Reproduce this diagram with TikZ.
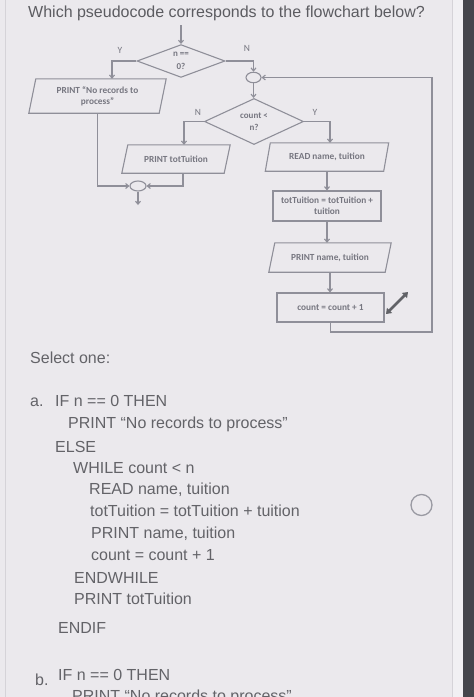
\documentclass[tikz,border=0pt]{standalone}
\usepackage{fontspec}
\setmainfont{Liberation Sans}
\newfontfamily\flowfont{Carlito}
\usetikzlibrary{shapes.geometric,arrows.meta}
\definecolor{bg}{HTML}{EBE9ED}
\definecolor{txt}{HTML}{636368}
\definecolor{ttl}{HTML}{5C5C61}
\definecolor{fl}{HTML}{8F8F99}
\definecolor{fltxt}{HTML}{767680}
\definecolor{strip}{HTML}{45464C}
\definecolor{edge}{HTML}{D5D3D8}
\newcommand\ioshape[2]{\draw[fline] ([xshift=#2]#1.north west) -- ([xshift=#2]#1.north east) -- ([xshift=-#2]#1.south east) -- ([xshift=-#2]#1.south west) -- cycle;}
\begin{document}
\begin{tikzpicture}[x=1pt,y=-1pt,
  fline/.style={draw=fl, line width=1.1pt},
  conn/.style={draw=fl, line width=1.1pt, -{Straight Barb[length=3pt,width=5pt]}},
  ftext/.style={font=\flowfont\bfseries\fontsize{9.3}{10.8}\selectfont, text=fltxt, align=center, inner sep=0pt},
  iobox/.style={ftext, rectangle},
  procbox/.style={ftext, rectangle, draw=fl, line width=1.1pt},
  decision/.style={ftext, diamond, draw=fl, line width=1.1pt, font=\flowfont\bfseries\fontsize{9}{12.5}\selectfont},
  junction/.style={ellipse, draw=fl, line width=1.1pt, inner sep=0pt},
  lbl/.style={font=\flowfont\fontsize{9.5}{10}\selectfont, text=fltxt, inner sep=0pt},
  code/.style={font=\fontsize{16}{18}\selectfont, text=txt, anchor=base west, inner sep=0pt},
]
\path[use as bounding box, clip] (0,0) rectangle (474,697);
\fill[bg] (0,0) rectangle (474,697);
\fill[strip] (463,0) rectangle (474,697);
\fill[white, opacity=0.35] (452,0) rectangle (463,697);
\draw[edge, line width=0.8pt] (5,0) -- (5,697);
\draw[edge, line width=0.8pt] (452,0) -- (452,697);

% title
\node[code, text=ttl] (title) at (28,17.5) {Which pseudocode corresponds to the flowchart below?};

% flowchart nodes
\coordinate (start) at (181,25);
\node[decision, minimum width=88pt, minimum height=32pt] (d1) at (181,61) {n ==\\0?};
\node[iobox, minimum width=130pt, minimum height=34pt] (p1) at (97.5,96) {PRINT “No records to\\process”};
\ioshape{p1}{3.5pt}
\node[junction, minimum width=15pt, minimum height=10.5pt] (c1) at (253.5,77.5) {};
\node[decision, minimum width=99pt, minimum height=37pt] (d2) at (254,121.5) {count <\\n?};
\node[iobox, minimum width=102pt, minimum height=28pt] (p2) at (176,159) {PRINT totTuition};
\ioshape{p2}{3pt}
\node[iobox, minimum width=118pt, minimum height=28pt] (p3) at (327,157) {READ name, tuition};
\ioshape{p3}{2.5pt}
\node[procbox, minimum width=108pt, minimum height=30pt] (r1) at (327,206) {totTuition = totTuition +\\tuition};
\node[iobox, minimum width=116pt, minimum height=29pt] (p4) at (330,257.5) {PRINT name, tuition};
\ioshape{p4}{3pt}
\node[procbox, minimum width=107pt, minimum height=29pt] (r2) at (330.5,307.5) {count = count + 1};
\node[junction, minimum width=16pt, minimum height=10pt] (c2) at (138,186) {};
\coordinate (c2out) at (138,205);
\coordinate (rb) at (432,332);

% labels
\node[lbl] (ly1) at (120,50) {Y};
\node[lbl] (ln1) at (247,48) {N};
\node[lbl] (ln2) at (198,112) {N};
\node[lbl] (ly2) at (315,112) {Y};

% connectors
\draw[conn] (start) -- (d1.north);
\draw[conn] (d1.west) -| ([xshift=14.5pt]p1.north);
\draw[conn] (d1.east) -| (c1.north);
\draw[conn] (c1.south) -- (c1.south |- d2.north);
\draw[conn] (d2.west) -| ([xshift=8pt]p2.north);
\draw[conn] (d2.east) -| ([xshift=3pt]p3.north);
\draw[conn] (p3.south) -- (p3.south |- r1.north);
\draw[conn] (r1.south) -- (r1.south |- p4.north);
\draw[conn] (p4.south) -- (p4.south |- r2.north);
\draw[conn] (r2.south) |- (rb) |- (c1.east);
\draw[conn] (p1.south) |- (c2.west);
\draw[conn] ([xshift=7pt]p2.south) |- (c2.east);
\draw[conn] (c2.south) -- (c2out);

% expand icon
\coordinate (ex1) at (386,314);
\coordinate (ex2) at (408,292);
\draw[draw=strip!85, line width=2.6pt, {Triangle[length=5pt,width=7pt]}-{Triangle[length=5pt,width=7pt]}] (ex1) -- (ex2);

% question text
\node[code] (sel) at (30,363) {Select one:};
\node[code] (la) at (30,406) {a.};
\node[code] (a1) at (55,406) {IF n == 0 THEN};
\node[code] (a2) at (68,428) {PRINT “No records to process”};
\node[code] (a3) at (55,452) {ELSE};
\node[code] (a4) at (73,473) {WHILE count < n};
\node[code] (a5) at (89,494) {READ name, tuition};
\node[code] (a6) at (90,516) {totTuition = totTuition + tuition};
\node[code] (a7) at (91,538) {PRINT name, tuition};
\node[code] (a8) at (91,560) {count = count + 1};
\node[code] (a9) at (74,583) {ENDWHILE};
\node[code] (a10) at (74,604) {PRINT totTuition};
\node[code] (a11) at (58,633) {ENDIF};
\node[circle, draw=fl!90, line width=1.3pt, minimum size=21pt, inner sep=0pt] (radioa) at (421.5,505) {};
\node[code] (lb) at (35,685) {b.};
\node[code] (b1) at (58,680) {IF n == 0 THEN};
\node[code] (b2) at (72,701) {PRINT “No records to process”};
\end{tikzpicture}
\end{document}
